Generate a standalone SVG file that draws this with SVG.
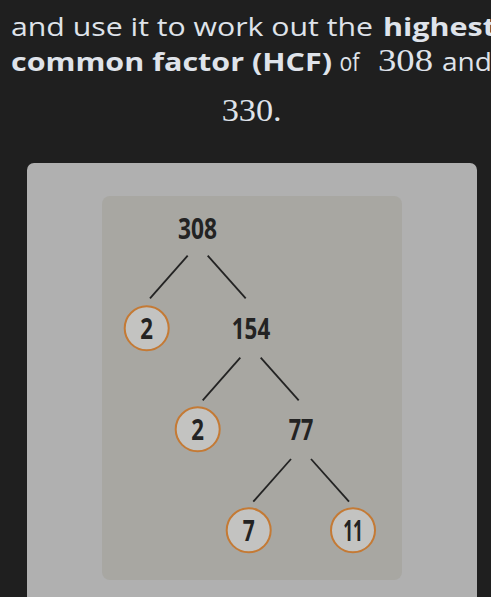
<svg xmlns="http://www.w3.org/2000/svg" width="491" height="597" viewBox="0 0 491 597">
  <style>
    .hd { font-family: "Open Sans", "Lato", "Liberation Sans", sans-serif; font-size: 25px; fill: #dfe3ea; }
    .b { font-weight: bold; }
    .m { font-family: "Liberation Serif", "DejaVu Serif", serif; font-size: 31px; fill: #dfe3ea; }
    .n { font-family: "Open Sans", "Liberation Sans", sans-serif; font-weight: 700; font-size: 29px; fill: #232323; text-anchor: middle; }
    .ring { fill: #c3c3c1; stroke: #c47a35; stroke-width: 2; }
    .edge { stroke: #232323; stroke-width: 1.8; fill: none; }
  </style>
  <rect x="0" y="0" width="491" height="597" fill="#1f1f1f"/>
  <text class="hd" x="11" y="36" textLength="362" lengthAdjust="spacingAndGlyphs">and use it to work out the</text>
  <text class="hd b" x="383" y="36" textLength="113" lengthAdjust="spacingAndGlyphs">highest</text>
  <text class="hd b" x="11" y="70.5" textLength="321" lengthAdjust="spacingAndGlyphs">common factor (HCF)</text>
  <text class="hd" x="339.5" y="70.5" textLength="20" lengthAdjust="spacingAndGlyphs">of</text>
  <text class="m" x="378" y="70.5" textLength="55" lengthAdjust="spacingAndGlyphs">308</text>
  <text class="hd" x="442" y="70.5" textLength="50" lengthAdjust="spacingAndGlyphs">and</text>
  <text class="m" x="221.7" y="120.7" textLength="60" lengthAdjust="spacingAndGlyphs">330.</text>

  <rect x="27" y="163" width="450" height="460" rx="7" fill="#b0b0b0"/>
  <rect x="102" y="196" width="300" height="384" rx="8" fill="#a8a7a2"/>

  <g id="connectors">
    <line class="edge" x1="187.7" y1="255.7" x2="150" y2="298.3"/>
    <line class="edge" x1="207.7" y1="255.7" x2="245.7" y2="298.3"/>
    <line class="edge" x1="240.3" y1="357.7" x2="202.7" y2="400.3"/>
    <line class="edge" x1="260.7" y1="357.7" x2="298.7" y2="400.3"/>
    <line class="edge" x1="291" y1="459" x2="253.3" y2="501.7"/>
    <line class="edge" x1="311" y1="459" x2="349" y2="501.7"/>
  </g>

  <g id="n308"><text class="n" x="197.5" y="239" textLength="39" lengthAdjust="spacingAndGlyphs">308</text></g>
  <g id="n2a"><circle class="ring" cx="146.7" cy="328.3" r="22"/><text class="n" x="146.7" y="339" textLength="12.7" lengthAdjust="spacingAndGlyphs">2</text></g>
  <g id="n154"><text class="n" x="251" y="339" textLength="38.3" lengthAdjust="spacingAndGlyphs">154</text></g>
  <g id="n2b"><circle class="ring" cx="197.7" cy="429.3" r="22"/><text class="n" x="197.7" y="440" textLength="12.7" lengthAdjust="spacingAndGlyphs">2</text></g>
  <g id="n77"><text class="n" x="301" y="440" textLength="24.7" lengthAdjust="spacingAndGlyphs">77</text></g>
  <g id="n7"><circle class="ring" cx="248.7" cy="530.3" r="22"/><text class="n" x="248.7" y="541" textLength="12" lengthAdjust="spacingAndGlyphs">7</text></g>
  <g id="n11"><circle class="ring" cx="353" cy="530.3" r="22"/><text class="n" x="353" y="541" textLength="19.7" lengthAdjust="spacingAndGlyphs">11</text></g>
</svg>
